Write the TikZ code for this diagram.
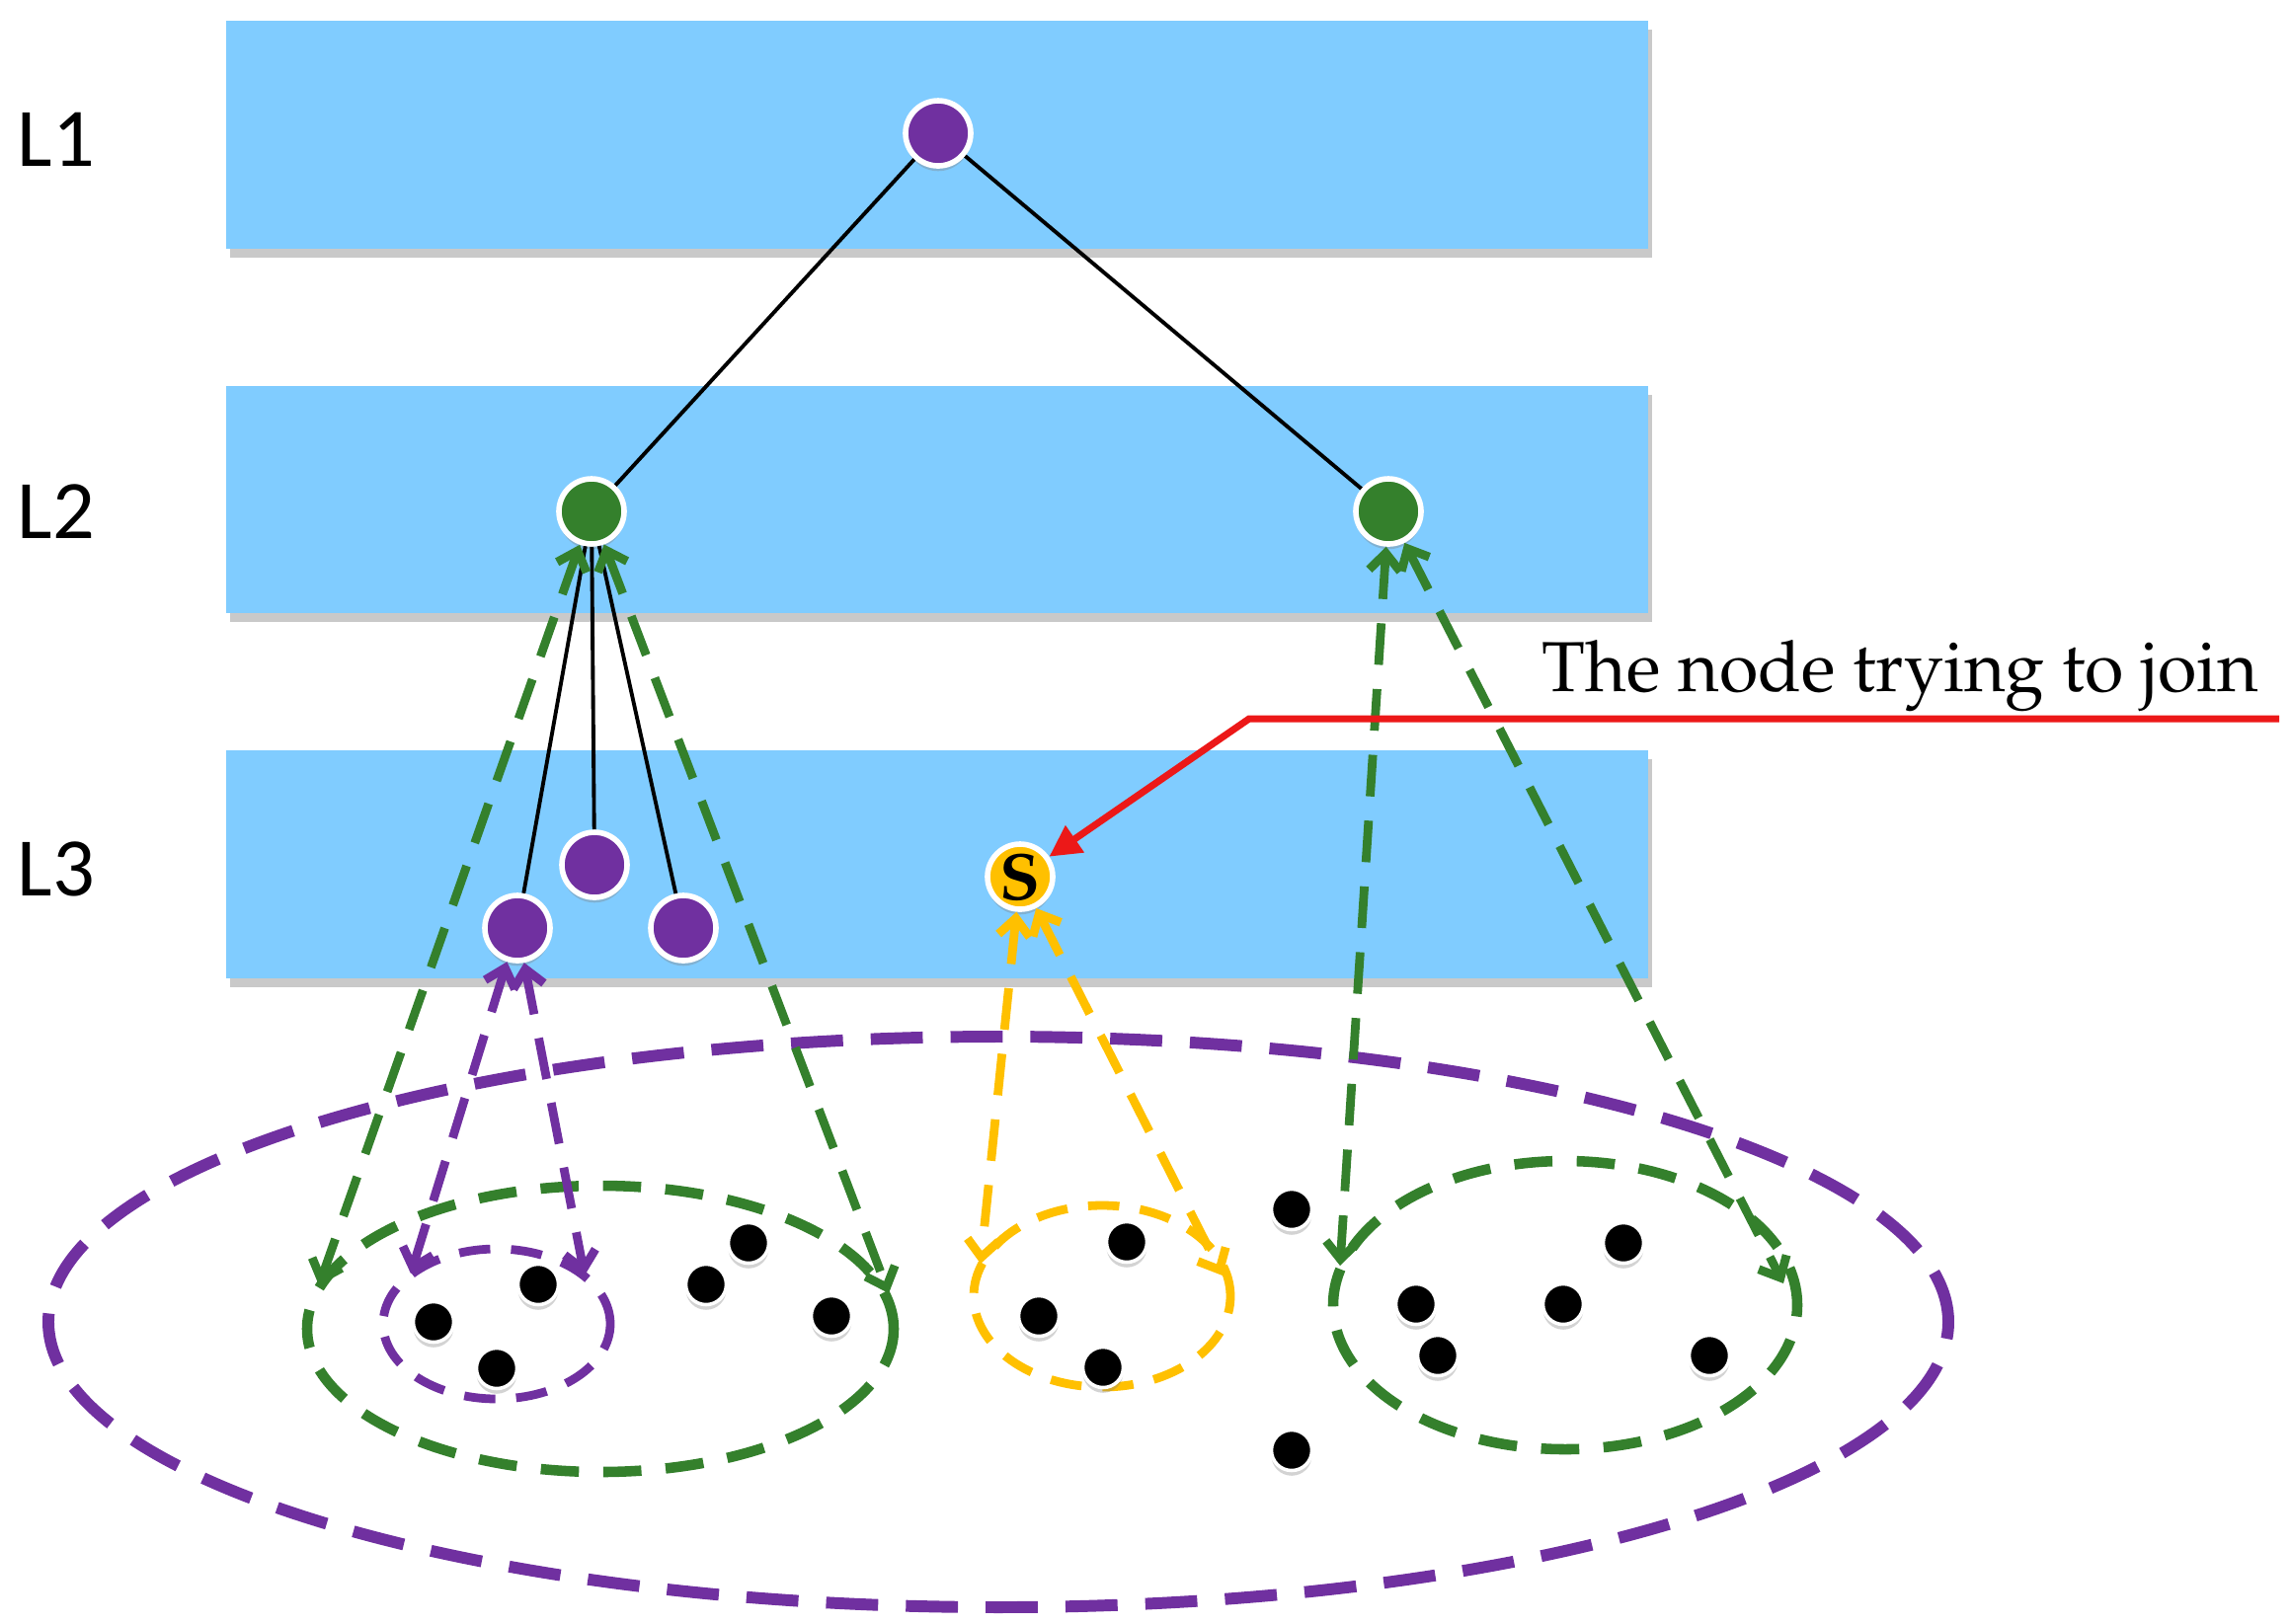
\documentclass[tikz,border=0pt]{standalone}
\usepackage{fontspec}
\usepackage{tikz}
\usetikzlibrary{shapes.geometric,arrows.meta,shadows}

\newfontfamily\layerfont{Carlito}
\newcommand{\palafont}{\fontencoding{T1}\fontfamily{ppl}\selectfont}

\definecolor{bandblue}{RGB}{128,204,255}
\definecolor{npurple}{RGB}{112,48,160}
\definecolor{ngreen}{RGB}{52,128,44}
\definecolor{norange}{RGB}{255,192,0}
\definecolor{nred}{RGB}{236,24,24}

\begin{document}
\begin{tikzpicture}[x=1cm,y=-1cm,
  band/.style={fill=bandblue, drop shadow={shadow xshift=1pt, shadow yshift=-2.5pt, opacity=.3, fill=black!70}},
  ball/.style={circle, draw=white, line width=1.6pt, minimum size=0.66cm, inner sep=0pt,
    drop shadow={shadow xshift=0pt, shadow yshift=-1.5pt, opacity=.35}},
  dot/.style={ball, fill=black, minimum size=0.41cm, line width=1pt},
  grp/.style={ellipse, inner sep=0pt},
  tree/.style={line width=1.1pt},
  cone/.style={line width=2.5pt, dash pattern=on 12pt off 7pt,
    {Straight Barb[length=5pt,width=9pt]}-{Straight Barb[length=5pt,width=9pt]}},
  layer/.style={font=\layerfont\fontsize{24}{28}\selectfont}
]
\useasboundingbox (0,0) rectangle (23.2,16.44);

% layers
\fill[band] (2.29,0.21) rectangle (16.69,2.52);
\fill[band] (2.29,3.91) rectangle (16.69,6.21);
\fill[band] (2.29,7.60) rectangle (16.69,9.91);

\node[layer] (l1) at (0.57,1.41) {L1};
\node[layer] (l2) at (0.57,5.18) {L2};
\node[layer] (l3) at (0.57,8.80) {L3};

% clusters
\node[grp, draw=npurple, line width=3.4pt, dash pattern=on 15pt off 8pt,
  minimum width=19.24cm, minimum height=5.78cm] (all) at (10.11,13.39) {};
\node[grp, draw=ngreen, line width=3pt, dash pattern=on 11pt off 7pt,
  minimum width=5.94cm, minimum height=2.9cm] (c1) at (6.08,13.46) {};
\node[grp, draw=npurple, line width=2.5pt, dash pattern=on 9pt off 6pt,
  minimum width=2.3cm, minimum height=1.52cm] (c11) at (5.03,13.41) {};
\node[grp, draw=norange, line width=2.5pt, dash pattern=on 9pt off 6pt,
  minimum width=2.6cm, minimum height=1.84cm] (cs) at (11.16,13.13) {};
\node[grp, draw=ngreen, line width=3pt, dash pattern=on 11pt off 7pt,
  minimum width=4.7cm, minimum height=2.92cm] (c2) at (15.85,13.22) {};

% tree
\node[ball, fill=npurple] (r) at (9.50,1.35) {};
\node[ball, fill=ngreen] (g1) at (5.99,5.18) {};
\node[ball, fill=ngreen] (g2) at (14.06,5.18) {};
\node[ball, fill=npurple] (p0) at (6.02,8.76) {};
\node[ball, fill=npurple] (p1) at (5.24,9.40) {};
\node[ball, fill=npurple] (p2) at (6.92,9.40) {};
\node[ball, fill=norange, font=\palafont\bfseries\fontsize{19}{19}\selectfont] (s) at (10.33,8.88) {S};

\draw[tree] (r) -- (g1);
\draw[tree] (r) -- (g2);
\draw[tree] (g1) -- (p0);
\draw[tree] (g1) -- (p1);
\draw[tree] (g1) -- (p2);

% cones
\coordinate (g1l) at (3.23,13.02);
\coordinate (g1r) at (9.00,13.10);
\coordinate (p1l) at (4.16,12.90);
\coordinate (p1r) at (5.92,12.92);
\coordinate (sl) at (9.93,12.80);
\coordinate (sr) at (12.38,12.92);
\coordinate (g2l) at (13.57,12.82);
\coordinate (g2r) at (18.06,13.00);

\draw[cone, ngreen] (g1) -- (g1l);
\draw[cone, ngreen] (g1) -- (g1r);
\draw[cone, npurple] (p1) -- (p1l);
\draw[cone, npurple] (p1) -- (p1r);
\draw[cone, norange] (s) -- (sl);
\draw[cone, norange] (s) -- (sr);
\draw[cone, ngreen] (g2) -- (g2l);
\draw[cone, ngreen] (g2) -- (g2r);

% members
\foreach \x/\y [count=\i] in {4.39/13.39, 5.45/13.01, 5.03/13.86, 7.15/13.01,
  7.58/12.59, 8.42/13.33, 11.41/12.58, 10.52/13.33, 11.17/13.85, 13.08/12.25,
  13.08/14.69, 14.34/13.21, 14.56/13.73, 15.83/13.21, 16.44/12.59, 17.31/13.73}
  \node[dot] (d\i) at (\x,\y) {};

% joining node
\node[anchor=base west, inner sep=0pt, font=\palafont\fontsize{20.4}{24}\selectfont]
  (lbl) at (15.61,7.00) {The node trying to join};
\coordinate (rt) at (23.08,7.28);
\coordinate (rb) at (12.65,7.28);
\draw[nred, line width=2pt, -{Triangle[length=9pt,width=9pt]}] (rt) -- (rb) -- (s);

\end{tikzpicture}
\end{document}
